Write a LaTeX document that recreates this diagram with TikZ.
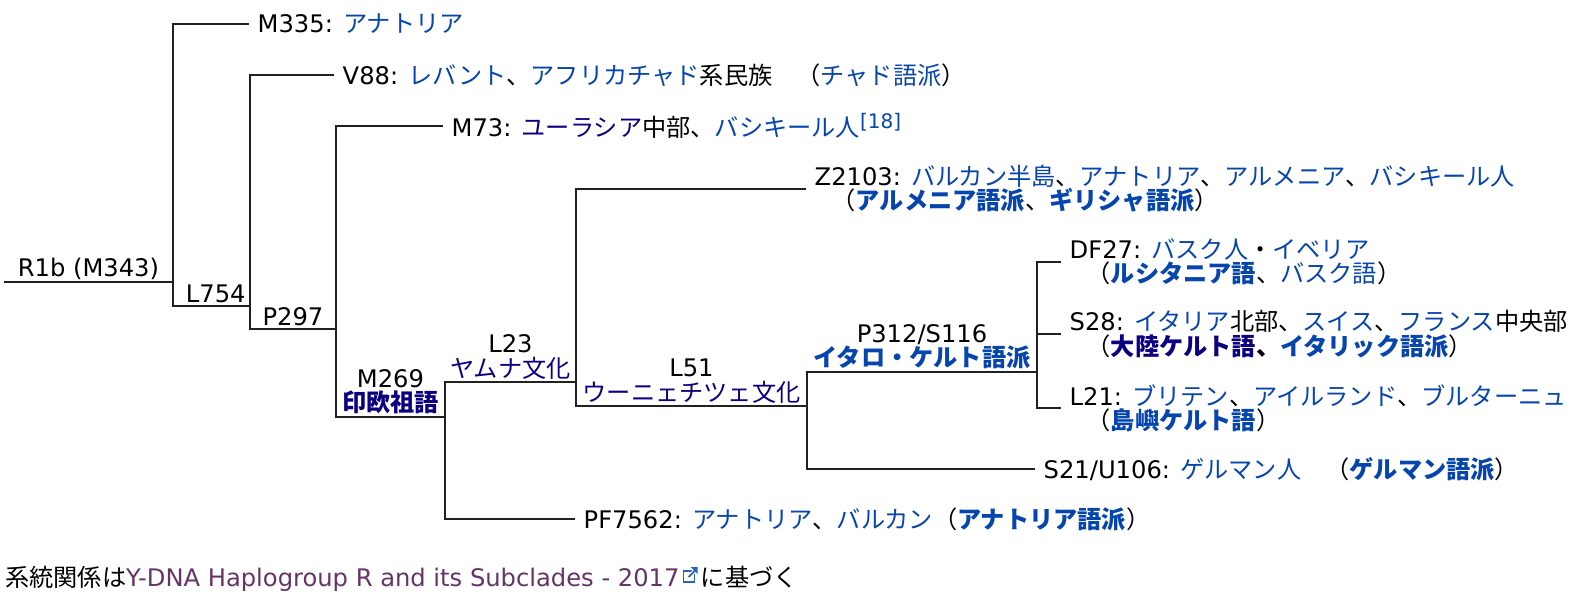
\documentclass[tikz,border=0pt]{standalone}
\usepackage{fontspec}
\usepackage{xcolor}
\usepackage{tikz}
\setmainfont{Noto Sans CJK JP}
\newfontfamily\lat{DejaVu Sans}

\definecolor{wlink}{HTML}{0645AD}
\definecolor{wvisit}{HTML}{0B0080}
\definecolor{wext}{HTML}{663366}
\definecolor{wline}{HTML}{202122}

\newcommand{\jpsize}{\fontsize{24.2pt}{24.2pt}\selectfont}
\newcommand{\cladesize}{\fontsize{24.2pt}{24.6pt}\selectfont}
\newcommand{\lnk}[1]{\textcolor{wlink}{#1}}
\newcommand{\vis}[1]{\textcolor{wvisit}{#1}}
\newcommand{\blnk}[1]{\textcolor{wlink}{\bfseries #1}}
\newcommand{\bvis}[1]{\textcolor{wvisit}{\bfseries #1}}

\begin{document}
\begin{tikzpicture}[x=1pt, y=-1pt,
    clade/.style={anchor=south, align=center, inner xsep=0pt, inner ysep=2.5pt, font=\cladesize},
    leaf/.style={anchor=west, align=left, inner xsep=8.5pt, inner ysep=0pt, font=\jpsize},
    branch/.style={draw=wline, line width=2pt}]
            \useasboundingbox (0,0) rectangle (1596,595);

            % junctions
            \coordinate (root) at (4, 282);
            \coordinate (j1) at (173, 282);
            \coordinate (j2) at (250, 306);
            \coordinate (j3) at (336, 329);
            \coordinate (j4) at (445, 417);
            \coordinate (j5) at (576, 382);
            \coordinate (j6) at (807, 406);
            \coordinate (j7) at (1037, 372);

            % clade labels
            \node[clade] (r1b) at (88.5, 282) {{\lat R1b (M343)}};
            \node[clade] (l754) at (215.8, 306) {{\lat L754}};
            \node[clade] (p297) at (293, 329) {{\lat P297}};
            \node[clade] (m269) at (390.5, 417) {{\lat M269}\\\bvis{印欧祖語}};
            \node[clade] (l23) at (510.5, 382) {{\lat L23}\\\vis{ヤムナ文化}};
            \node[clade] (l51) at (691.5, 406) {{\lat L51}\\\vis{ウーニェチツェ文化}};
            \node[clade] (p312) at (922, 372) {{\lat P312/S116}\\\blnk{イタロ・ケルト語派}};

            % leaves
            \node[leaf] (m335) at (249, 24) {{\lat M335: }\lnk{アナトリア}};
            \node[leaf] (v88) at (334, 75) {{\lat V88: }\lnk{レバント}、\lnk{アフリカ}\lnk{チャド}系民族　（\lnk{チャド語派}）};
            \node[leaf] (m73) at (443, 126) {{\lat M73: }\vis{ユーラシア}中部、\lnk{バシキール人}\raisebox{8pt}{\lat\fontsize{20pt}{20pt}\selectfont\color{wlink}[18]}};
            \node[leaf] (z2103) at (806, 189) {{\lat Z2103: }\lnk{バルカン半島}、\lnk{アナトリア}、\lnk{アルメニア}、\lnk{バシキール人}\\\hspace*{17pt}（\blnk{アルメニア語派}、\blnk{ギリシャ語派}）};
            \node[leaf] (df27) at (1061, 262) {{\lat DF27: }\lnk{バスク人}・\lnk{イベリア}\\\hspace*{17pt}（\blnk{ルシタニア語}、\lnk{バスク語}）};
            \node[leaf] (s28) at (1061, 334) {{\lat S28: }\lnk{イタリア}北部、\lnk{スイス}、\lnk{フランス}中央部\\\hspace*{17pt}（\bvis{大陸ケルト語}\textbf{、}\blnk{イタリック語派}）};
            \node[leaf] (l21) at (1061, 408) {{\lat L21: }\lnk{ブリテン}、\lnk{アイルランド}、\lnk{ブルターニュ}\\\hspace*{17pt}（\blnk{島嶼ケルト語}）};
            \node[leaf] (s21) at (1035, 469) {{\lat S21/U106: }\lnk{ゲルマン人}　（\blnk{ゲルマン語派}）};
            \node[leaf] (pf7562) at (575, 519) {{\lat PF7562: }\lnk{アナトリア}、\lnk{バルカン}（\blnk{アナトリア語派}）};

            % branches
            \draw[branch] (root) -- (j1);
            \draw[branch] (m335.west) -| (j1) |- (j2);
            \draw[branch] (v88.west) -| (j2) |- (j3);
            \draw[branch] (m73.west) -| (j3) |- (j4);
            \draw[branch] (j5) -| (j4) |- (pf7562.west);
            \draw[branch] (z2103.west) -| (j5) |- (j6);
            \draw[branch] (j7) -| (j6) |- (s21.west);
            \draw[branch] (df27.west) -| (j7) |- (l21.west);
            \draw[branch] (j7 |- s28.west) -- (s28.west);

            % source note
            \node[anchor=base west, inner sep=0pt, font=\jpsize] (src) at (5, 586) {系統関係は\textcolor{wext}{\lat Y-DNA Haplogroup R and its Subclades - 2017}};
            \node[anchor=base west, inner sep=0pt, font=\jpsize] (basis) at ([xshift=21pt]src.base east) {に基づく};
            % external link icon
            \draw[wlink!85, line width=1.4pt] ([xshift=4pt, yshift=4pt]src.base east) rectangle ++(11, -11);
            \draw[white, line width=4pt] ([xshift=9pt, yshift=9pt]src.base east) -- ++(8, -8);
            \draw[wlink!85, line width=1.8pt] ([xshift=9pt, yshift=9pt]src.base east) -- ++(7, -7);
            \fill[wlink!85] ([xshift=18pt, yshift=19pt]src.base east) -- ++(-7, 0) -- ++(7, 7) -- cycle;
        \end{tikzpicture}
\end{document}
